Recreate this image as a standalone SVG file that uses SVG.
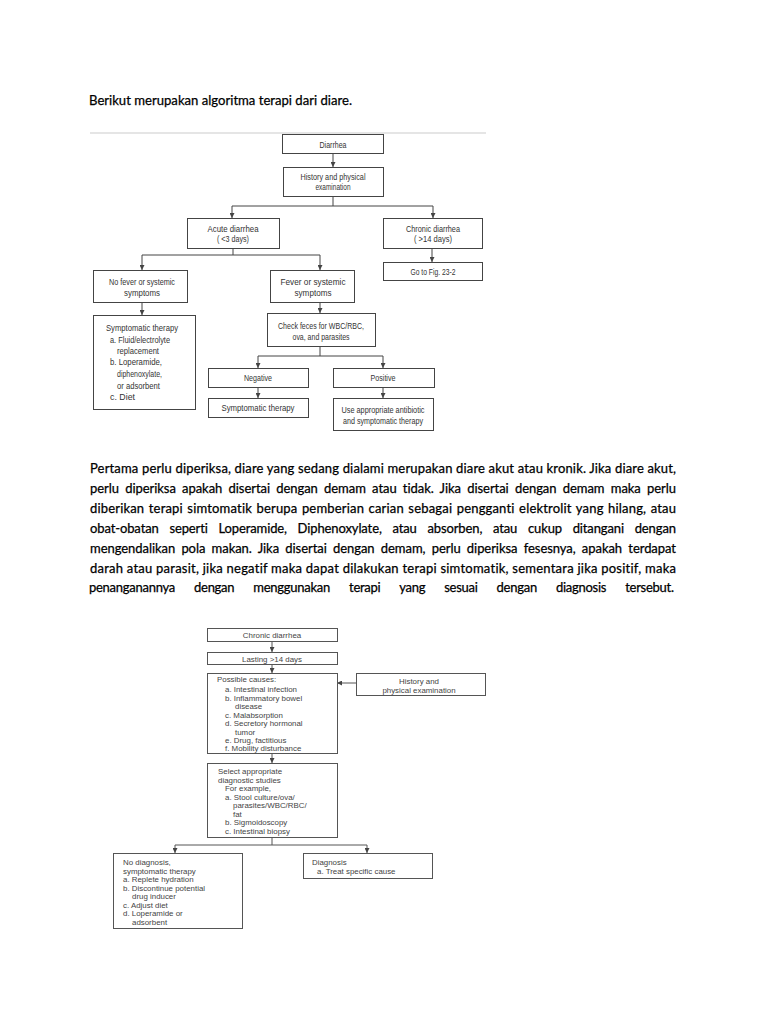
<svg xmlns="http://www.w3.org/2000/svg" width="768" height="1024" viewBox="0 0 768 1024">
<defs>
<style>
.para{font-family:Lato,"Open Sans","Liberation Sans",sans-serif;font-size:13px;fill:#000;stroke:#000;stroke-width:0.25;font-variant-ligatures:none;}
.c1{font-family:"Liberation Sans",Arial,sans-serif;font-size:9.3px;fill:#333;}
.c1m{text-anchor:middle;}
.c2{font-family:"Liberation Sans",Arial,sans-serif;font-size:7.9px;fill:#444;}
.c2m{text-anchor:middle;}
.b1{fill:#fff;stroke:#444;stroke-width:1;}
.b2{fill:#fff;stroke:#555;stroke-width:1;}
.ln1{fill:none;stroke:#444;stroke-width:1;}
.ln2{fill:none;stroke:#555;stroke-width:1;}
</style>
<marker id="ah" markerWidth="5" markerHeight="5" refX="5" refY="2.5" orient="auto" markerUnits="userSpaceOnUse">
<path d="M0,0 L5,2.5 L0,5 z" fill="#444"/>
</marker>
</defs>
<rect width="768" height="1024" fill="#fff"/>

<text class="para" x="89" y="105" textLength="263" lengthAdjust="spacingAndGlyphs">Berikut merupakan algoritma terapi dari diare.</text>

<!-- Figure 1 -->
<line x1="90" y1="133" x2="486" y2="133" stroke="#ddd" stroke-width="1.5"/>
<g id="connectors1" class="ln1">
<path d="M333,153 V167" marker-end="url(#ah)"/>
<path d="M333,196 V206 M232,206 H433"/>
<path d="M232,206 V218" marker-end="url(#ah)"/>
<path d="M433,206 V218" marker-end="url(#ah)"/>
<path d="M233,248 V255 M142,255 H320"/>
<path d="M142,255 V270" marker-end="url(#ah)"/>
<path d="M320,255 V270" marker-end="url(#ah)"/>
<path d="M432,248 V262" marker-end="url(#ah)"/>
<path d="M142,302 V315" marker-end="url(#ah)"/>
<path d="M320,302 V313" marker-end="url(#ah)"/>
<path d="M320,346 V356 M258,356 H383"/>
<path d="M258,356 V368" marker-end="url(#ah)"/>
<path d="M383,356 V368" marker-end="url(#ah)"/>
<path d="M258,387 V398" marker-end="url(#ah)"/>
<path d="M383,387 V398" marker-end="url(#ah)"/>
</g>
<g id="n-diarrhea"><rect class="b1" x="282.5" y="134.5" width="101" height="19"/><text class="c1 c1m" x="333" y="148" textLength="27" lengthAdjust="spacingAndGlyphs">Diarrhea</text></g>
<g id="n-history"><rect class="b1" x="283.5" y="167.5" width="100" height="29"/><text class="c1 c1m" x="333" y="180" textLength="65" lengthAdjust="spacingAndGlyphs">History and physical</text><text class="c1 c1m" x="333" y="190" textLength="35" lengthAdjust="spacingAndGlyphs">examination</text></g>
<g id="n-acute"><rect class="b1" x="187.5" y="218.5" width="92" height="30"/><text class="c1 c1m" x="233" y="232" textLength="51" lengthAdjust="spacingAndGlyphs">Acute diarrhea</text><text class="c1 c1m" x="233" y="242" textLength="32" lengthAdjust="spacingAndGlyphs">( &lt;3 days)</text></g>
<g id="n-chronic"><rect class="b1" x="383.5" y="218.5" width="99" height="30"/><text class="c1 c1m" x="433" y="232" textLength="54" lengthAdjust="spacingAndGlyphs">Chronic diarrhea</text><text class="c1 c1m" x="433" y="242" textLength="38" lengthAdjust="spacingAndGlyphs">( &gt;14 days)</text></g>
<g id="n-goto"><rect class="b1" x="383.5" y="262.5" width="99" height="18"/><text class="c1 c1m" x="433" y="275" textLength="45" lengthAdjust="spacingAndGlyphs">Go to Fig. 23-2</text></g>
<g id="n-nofever"><rect class="b1" x="93.5" y="270.5" width="94" height="32"/><text class="c1 c1m" x="142" y="285" textLength="66" lengthAdjust="spacingAndGlyphs">No fever or systemic</text><text class="c1 c1m" x="142" y="296" textLength="36" lengthAdjust="spacingAndGlyphs">symptoms</text></g>
<g id="n-symp1"><rect class="b1" x="93.5" y="315.5" width="102" height="94"/>
<text class="c1 c1m" x="142" y="331" textLength="72" lengthAdjust="spacingAndGlyphs">Symptomatic therapy</text>
<text class="c1" x="110" y="343" textLength="60" lengthAdjust="spacingAndGlyphs">a. Fluid/electrolyte</text>
<text class="c1" x="117" y="354" textLength="42" lengthAdjust="spacingAndGlyphs">replacement</text>
<text class="c1" x="110" y="365" textLength="52" lengthAdjust="spacingAndGlyphs">b. Loperamide,</text>
<text class="c1" x="117" y="377" textLength="45" lengthAdjust="spacingAndGlyphs">diphenoxylate,</text>
<text class="c1" x="117" y="389" textLength="43" lengthAdjust="spacingAndGlyphs">or adsorbent</text>
<text class="c1" x="110" y="400" textLength="25" lengthAdjust="spacingAndGlyphs">c. Diet</text></g>
<g id="n-fever"><rect class="b1" x="270.5" y="270.5" width="84" height="32"/><text class="c1 c1m" x="313" y="285" textLength="65" lengthAdjust="spacingAndGlyphs">Fever or systemic</text><text class="c1 c1m" x="313" y="296" textLength="37" lengthAdjust="spacingAndGlyphs">symptoms</text></g>
<g id="n-check"><rect class="b1" x="267.5" y="313.5" width="108" height="33"/><text class="c1 c1m" x="321" y="329" textLength="86" lengthAdjust="spacingAndGlyphs">Check feces for WBC/RBC,</text><text class="c1 c1m" x="321" y="340" textLength="57" lengthAdjust="spacingAndGlyphs">ova, and parasites</text></g>
<g id="n-negative"><rect class="b1" x="208.5" y="368.5" width="100" height="19"/><text class="c1 c1m" x="258" y="381" textLength="28" lengthAdjust="spacingAndGlyphs">Negative</text></g>
<g id="n-positive"><rect class="b1" x="333.5" y="368.5" width="101" height="19"/><text class="c1 c1m" x="383" y="381" textLength="25" lengthAdjust="spacingAndGlyphs">Positive</text></g>
<g id="n-symp2"><rect class="b1" x="208.5" y="398.5" width="100" height="19"/><text class="c1 c1m" x="258" y="411" textLength="73" lengthAdjust="spacingAndGlyphs">Symptomatic therapy</text></g>
<g id="n-antibiotic"><rect class="b1" x="333.5" y="398.5" width="100" height="32"/><text class="c1 c1m" x="383" y="413" textLength="83" lengthAdjust="spacingAndGlyphs">Use appropriate antibiotic</text><text class="c1 c1m" x="383" y="424" textLength="80" lengthAdjust="spacingAndGlyphs">and symptomatic therapy</text></g>

<!-- Paragraph -->
<text class="para" x="90" y="473" textLength="586" lengthAdjust="spacing">Pertama perlu diperiksa, diare yang sedang dialami merupakan diare akut atau kronik. Jika diare akut,</text>
<text class="para" x="90" y="493" textLength="586" lengthAdjust="spacing" word-spacing="3">perlu diperiksa apakah disertai dengan demam atau tidak. Jika disertai dengan demam maka perlu</text>
<text class="para" x="90" y="513" textLength="586" lengthAdjust="spacing" word-spacing="1">diberikan terapi simtomatik berupa pemberian carian sebagai pengganti elektrolit yang hilang, atau</text>
<text class="para" x="90" y="533" textLength="586" lengthAdjust="spacing" word-spacing="7.5">obat-obatan seperti Loperamide, Diphenoxylate, atau absorben, atau cukup ditangani dengan</text>
<text class="para" x="90" y="553" textLength="586" lengthAdjust="spacing" word-spacing="3">mengendalikan pola makan. Jika disertai dengan demam, perlu diperiksa fesesnya, apakah terdapat</text>
<text class="para" x="90" y="573" textLength="586" lengthAdjust="spacing">darah atau parasit, jika negatif maka dapat dilakukan terapi simtomatik, sementara jika positif, maka</text>
<text class="para" x="89" y="592" textLength="585" lengthAdjust="spacing" word-spacing="16">penanganannya dengan menggunakan terapi yang sesuai dengan diagnosis tersebut.</text>

<!-- Figure 2 -->
<g id="connectors2" class="ln2">
<path d="M272,641 V652" marker-end="url(#ah)"/>
<path d="M272,664 V673" marker-end="url(#ah)"/>
<path d="M356,683 H337" marker-end="url(#ah)"/>
<path d="M272,753 V763" marker-end="url(#ah)"/>
<path d="M272,837 V845 M175,845 H367"/>
<path d="M175,845 V853" marker-end="url(#ah)"/>
<path d="M367,845 V853" marker-end="url(#ah)"/>
</g>
<g id="m-chronic"><rect class="b2" x="207.5" y="628.5" width="130" height="13"/><text class="c2 c2m" x="272" y="638">Chronic diarrhea</text></g>
<g id="m-lasting"><rect class="b2" x="207.5" y="652.5" width="130" height="12"/><text class="c2 c2m" x="272" y="661.5">Lasting &gt;14 days</text></g>
<g id="m-causes"><rect class="b2" x="207.5" y="673.5" width="130" height="80"/>
<text class="c2" x="217" y="682">Possible causes:</text>
<text class="c2" x="225" y="692">a. Intestinal infection</text>
<text class="c2" x="225" y="701">b. Inflammatory bowel</text>
<text class="c2" x="235" y="709">disease</text>
<text class="c2" x="225" y="717.5">c. Malabsorption</text>
<text class="c2" x="225" y="726">d. Secretory hormonal</text>
<text class="c2" x="235" y="734.5">tumor</text>
<text class="c2" x="225" y="743">e. Drug, factitious</text>
<text class="c2" x="225" y="751">f. Mobility disturbance</text></g>
<g id="m-history"><rect class="b2" x="356.5" y="673.5" width="129" height="22"/><text class="c2 c2m" x="419" y="684">History and</text><text class="c2 c2m" x="419" y="692.5">physical examination</text></g>
<g id="m-select"><rect class="b2" x="207.5" y="763.5" width="130" height="74"/>
<text class="c2" x="218" y="774">Select appropriate</text>
<text class="c2" x="218" y="782.5">diagnostic studies</text>
<text class="c2" x="225" y="791">For example,</text>
<text class="c2" x="225" y="799.5">a. Stool culture/ova/</text>
<text class="c2" x="233" y="808">parasites/WBC/RBC/</text>
<text class="c2" x="233" y="816.5">fat</text>
<text class="c2" x="225" y="825">b. Sigmoidoscopy</text>
<text class="c2" x="225" y="833.5">c. Intestinal biopsy</text></g>
<g id="m-nodiag"><rect class="b2" x="113.5" y="853.5" width="129" height="75"/>
<text class="c2" x="123" y="865">No diagnosis,</text>
<text class="c2" x="123" y="873.5">symptomatic therapy</text>
<text class="c2" x="123" y="882">a. Replete hydration</text>
<text class="c2" x="123" y="890.5">b. Discontinue potential</text>
<text class="c2" x="132" y="899">drug inducer</text>
<text class="c2" x="123" y="907.5">c. Adjust diet</text>
<text class="c2" x="123" y="916">d. Loperamide or</text>
<text class="c2" x="132" y="924.5">adsorbent</text></g>
<g id="m-diag"><rect class="b2" x="303.5" y="853.5" width="129" height="25"/>
<text class="c2" x="312" y="865">Diagnosis</text>
<text class="c2" x="317" y="873.5">a. Treat specific cause</text></g>
</svg>
